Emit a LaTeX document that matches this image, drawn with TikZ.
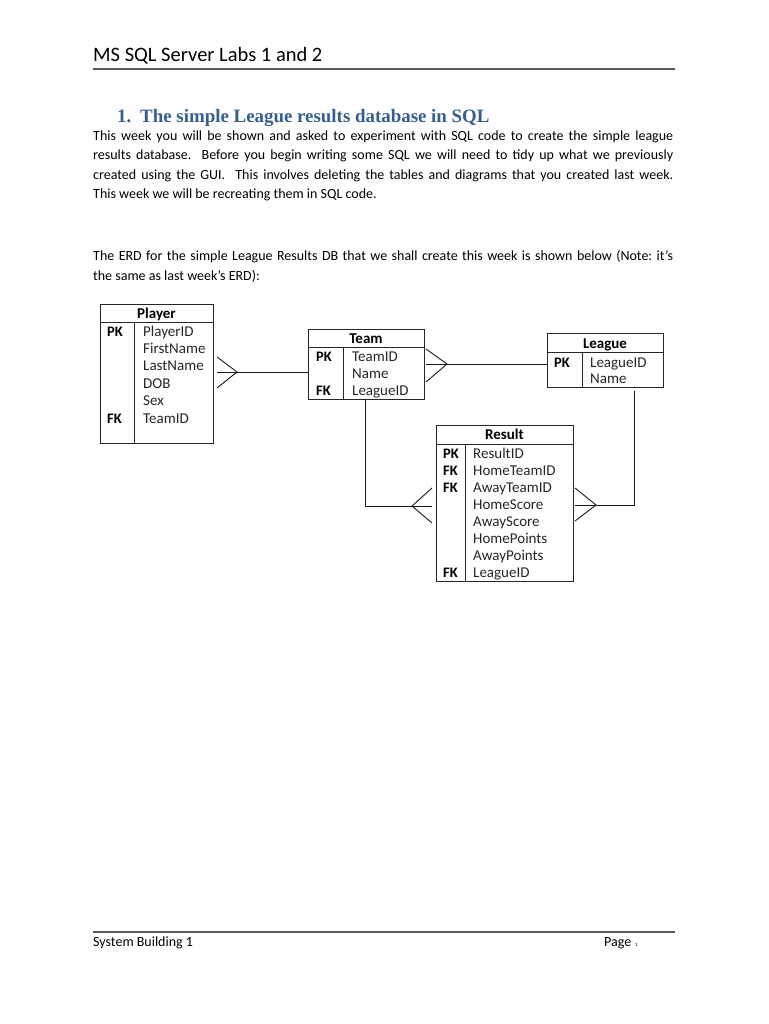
\documentclass[tikz,border=0pt]{standalone}
\usepackage{fontspec}
\setmainfont{Carlito}
\newfontfamily\headingfont{Liberation Serif}
\definecolor{headblue}{HTML}{365F91}
\definecolor{rulegray}{HTML}{5A5A5A}
\frenchspacing
\begin{document}
\begin{tikzpicture}[x=1pt,y=-1pt,
  txt/.style={anchor=base west, inner sep=0pt, font=\fontsize{14}{16}\selectfont},
  tbl/.style={draw=black!85, line width=1.2pt, anchor=north west, inner sep=0pt},
  tline/.style={draw=black!85, line width=1pt},
  thead/.style={anchor=base, inner sep=0pt, font=\bfseries\fontsize{15}{17}\selectfont},
  keyc/.style={anchor=base west, inner sep=0pt, font=\bfseries\fontsize{14.5}{17}\selectfont},
  fld/.style={anchor=base west, inner sep=0pt, text=black!85, font=\fontsize{15}{17}\selectfont},
  conn/.style={line width=0.9pt, black!90},
  pagerule/.style={draw=rulegray, line width=1.6pt}]
\useasboundingbox (0,0) rectangle (768,1024);
\fill[white] (0,0) rectangle (768,1024);

% header
\node[txt, font=\fontsize{20.5}{22}\selectfont] (hdr) at (93,62) {MS SQL Server Labs 1 and 2};
\coordinate (hrL) at (93,69);
\coordinate (hrR) at (675,69);
\draw[pagerule] (hrL) -- (hrR);

% heading
\node[anchor=base west, inner sep=0pt, text=headblue, font=\headingfont\bfseries\fontsize{18.9}{20}\selectfont] (heading) at (117,122.5)
  {\makebox[23pt][l]{1.}The simple League results database in SQL};

% body
\node[txt] (l1) at (93,140.5) {\makebox[580pt][s]{This week you will be shown and asked to experiment with SQL code to create the simple league}};
\node[txt] (l2) at (93,159.8) {\makebox[580pt][s]{results database.\ \ Before you begin writing some SQL we will need to tidy up what we previously}};
\node[txt] (l3) at (93,179.1) {\makebox[580pt][s]{created using the GUI.\ \ This involves deleting the tables and diagrams that you created last week.}};
\node[txt] (l4) at (93,198.4) {This week we will be recreating them in SQL code.};
\node[txt] (l5) at (93,260.7) {\makebox[580pt][s]{The ERD for the simple League Results DB that we shall create this week is shown below (Note: it’s}};
\node[txt] (l6) at (93,280) {the same as last week’s ERD):};

% ---- Player table
\node[tbl, minimum width=113pt, minimum height=139pt] (player) at (100,304) {};
\draw[tline] ([yshift=-18pt]player.north west) -- ([yshift=-18pt]player.north east);
\draw[tline] ([xshift=34pt,yshift=-18pt]player.north west) -- ([xshift=34pt]player.south west);
\node[thead] (playerT) at (156.5,318) {Player};
\node[keyc] (ppk) at (107,336) {PK};
\node[keyc] (pfk) at (107,423) {FK};
\foreach \t [count=\i] in {PlayerID,FirstName,LastName,DOB,Sex,TeamID}
  \node[fld] (pf\i) at (143,{336+17.4*(\i-1)}) {\t};

% ---- Team table
\node[tbl, minimum width=116pt, minimum height=70pt] (team) at (308,329) {};
\draw[tline] ([yshift=-18pt]team.north west) -- ([yshift=-18pt]team.north east);
\draw[tline] ([xshift=35pt,yshift=-18pt]team.north west) -- ([xshift=35pt]team.south west);
\node[thead] (teamT) at (366,343) {Team};
\node[keyc] (tpk) at (316,361) {PK};
\node[keyc] (tfk) at (316,395) {FK};
\foreach \t [count=\i] in {TeamID,Name,LeagueID}
  \node[fld] (tf\i) at (352,{361+17*(\i-1)}) {\t};

% ---- League table
\node[tbl, minimum width=116pt, minimum height=54pt] (league) at (547,333) {};
\draw[tline] ([yshift=-19pt]league.north west) -- ([yshift=-19pt]league.north east);
\draw[tline] ([xshift=35pt,yshift=-19pt]league.north west) -- ([xshift=35pt]league.south west);
\node[thead] (leagueT) at (605,348) {League};
\node[keyc] (lpk) at (554,367) {PK};
\foreach \t [count=\i] in {LeagueID,Name}
  \node[fld] (lf\i) at (590,{367+16*(\i-1)}) {\t};

% ---- Result table
\node[tbl, minimum width=137pt, minimum height=156pt] (result) at (436,425) {};
\draw[tline] ([yshift=-19pt]result.north west) -- ([yshift=-19pt]result.north east);
\draw[tline] ([xshift=29pt,yshift=-19pt]result.north west) -- ([xshift=29pt]result.south west);
\node[thead] (resultT) at (504.5,439) {Result};
\node[keyc] (rpk) at (443,458) {PK};
\node[keyc] (rfk1) at (443,475.1) {FK};
\node[keyc] (rfk2) at (443,492.2) {FK};
\node[keyc] (rfk3) at (443,577.7) {FK};
\foreach \t [count=\i] in {ResultID,HomeTeamID,AwayTeamID,HomeScore,AwayScore,HomePoints,AwayPoints,LeagueID}
  \node[fld] (rf\i) at (473,{458+17.1*(\i-1)}) {\t};

% ---- connectors
% Player >- Team
\coordinate (ptA) at (217,372);
\coordinate (ptTip) at (237,372);
\coordinate (ptU) at (217,357);
\coordinate (ptL) at (217,388);
\draw[conn] (ptA) -- (team.west |- ptA);
\draw[conn] (ptU) -- (ptTip) -- (ptL);

% Team >- League
\coordinate (tlA) at (426,364);
\coordinate (tlTip) at (447,364);
\coordinate (tlU) at (426,349);
\coordinate (tlL) at (426,382);
\draw[conn] (tlA) -- (league.west |- tlA);
\draw[conn] (tlU) -- (tlTip) -- (tlL);

% Team -< Result
\coordinate (trX) at (365,0);
\coordinate (trEnd) at (432,506);
\coordinate (trTip) at (412,506);
\coordinate (trU) at (432,488);
\coordinate (trL) at (432,523);
\draw[conn] (team.south -| trX) -- (trX |- trEnd) -- (trEnd);
\draw[conn] (trU) -- (trTip) -- (trL);

% League -< Result
\coordinate (lrX) at (634,0);
\coordinate (lrEnd) at (575,505);
\coordinate (lrTip) at (596,505);
\coordinate (lrU) at (575,488);
\coordinate (lrL) at (575,521);
\draw[conn] ([yshift=-3pt]league.south -| lrX) -- (lrX |- lrEnd) -- (lrEnd);
\draw[conn] (lrU) -- (lrTip) -- (lrL);

% footer
\coordinate (frL) at (93,932);
\coordinate (frR) at (675,932);
\draw[pagerule] (frL) -- (frR);
\node[txt] (ftL) at (93,946) {System Building 1};
\node[txt] (ftR) at (604,946) {Page};
\node[anchor=base west, inner sep=0pt, font=\fontsize{5}{6}\selectfont] (ftN) at (635,946) {1};
\end{tikzpicture}
\end{document}
